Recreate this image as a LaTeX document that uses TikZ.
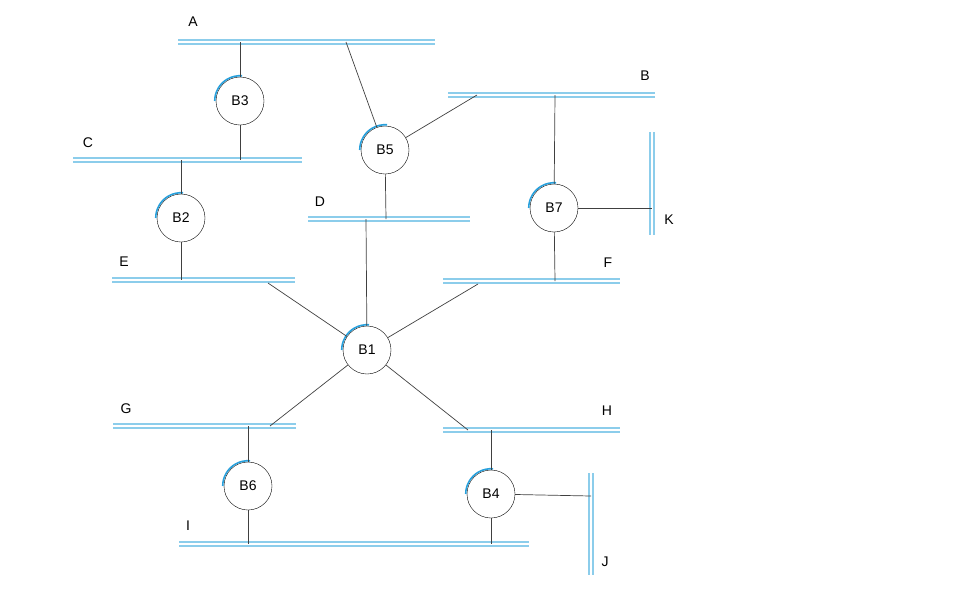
\documentclass[tikz,border=0pt]{standalone}
\usepackage{fontspec}
\setmainfont{Liberation Sans}
\definecolor{busblue}{RGB}{140,205,235}
\definecolor{arcblue}{RGB}{40,160,220}
\begin{document}
\begin{tikzpicture}[x=1pt,y=-1pt,
  bus/.style={draw=busblue,line width=2.4pt,double=white,double distance=1.6pt},
  br/.style={circle,draw,fill=white,minimum size=48pt,inner sep=0pt,font=\fontsize{14}{14}\selectfont},
  lab/.style={font=\fontsize{14}{14}\selectfont},
  ln/.style={draw=black!75,line width=0.7pt}]
\useasboundingbox (0,0) rectangle (965,611);
% buses
\draw[bus] (178,42) -- (435,42);
\draw[bus] (448,95) -- (655,95);
\draw[bus] (73,160) -- (302,160);
\draw[bus] (308,219) -- (470,219);
\draw[bus] (112,280) -- (295,280);
\draw[bus] (443,281) -- (620,281);
\draw[bus] (113,426) -- (296,426);
\draw[bus] (443,430) -- (620,430);
\draw[bus] (179,544) -- (529,544);
\draw[bus] (591,473) -- (591,575);
\draw[bus] (652,132) -- (652,235);
% labels
\node[lab] (lA) at (193,22) {A};
\node[lab] (lB) at (645,76) {B};
\node[lab] (lC) at (88,143) {C};
\node[lab] (lD) at (320,202) {D};
\node[lab] (lE) at (124,262) {E};
\node[lab] (lF) at (608,263) {F};
\node[lab] (lG) at (126,409) {G};
\node[lab] (lH) at (607,411) {H};
\node[lab] (lI) at (188,526) {I};
\node[lab] (lJ) at (605,562) {J};
\node[lab] (lK) at (669,220) {K};
% attach coordinates
\coordinate (a1) at (240,42); \coordinate (a2) at (346,42);
\coordinate (b1) at (477,95); \coordinate (b2) at (555,95);
\coordinate (c1) at (240,160); \coordinate (c2) at (181,160);
\coordinate (d1) at (386,219); \coordinate (d2) at (366,219);
\coordinate (e1) at (181,280); \coordinate (e2) at (268,283);
\coordinate (f1) at (555,281); \coordinate (f2) at (478,284);
\coordinate (g1) at (270,426); \coordinate (g2) at (248,426);
\coordinate (h1) at (468,430); \coordinate (h2) at (491,430);
\coordinate (i1) at (248,544); \coordinate (i2) at (491,544);
\coordinate (j1) at (591,496); \coordinate (k1) at (652,208);
% breakers
\foreach \n/\x/\y in {B3/240/101,B5/385/150,B2/181/218,B7/554/208,B1/367/350,B6/248/486,B4/491/494}{
  \node[br] (\n) at (\x,\y) {\n};
  \draw[arcblue,line width=1.6pt] (\n.center) ++(180:25.3) arc[start angle=180,end angle=275,radius=25.3];
}
\draw[ln] (a1) -- (B3); \draw[ln] (B3) -- (c1);
\draw[ln] (a2) -- (B5); \draw[ln] (B5) -- (b1); \draw[ln] (B5) -- (d1);
\draw[ln] (c2) -- (B2); \draw[ln] (B2) -- (e1);
\draw[ln] (b2) -- (B7); \draw[ln] (B7) -- (f1); \draw[ln] (B7) -- (k1);
\draw[ln] (e2) -- (B1); \draw[ln] (d2) -- (B1); \draw[ln] (f2) -- (B1);
\draw[ln] (g1) -- (B1); \draw[ln] (h1) -- (B1);
\draw[ln] (g2) -- (B6); \draw[ln] (B6) -- (i1);
\draw[ln] (h2) -- (B4); \draw[ln] (B4) -- (i2); \draw[ln] (B4) -- (j1);
\end{tikzpicture}
\end{document}
